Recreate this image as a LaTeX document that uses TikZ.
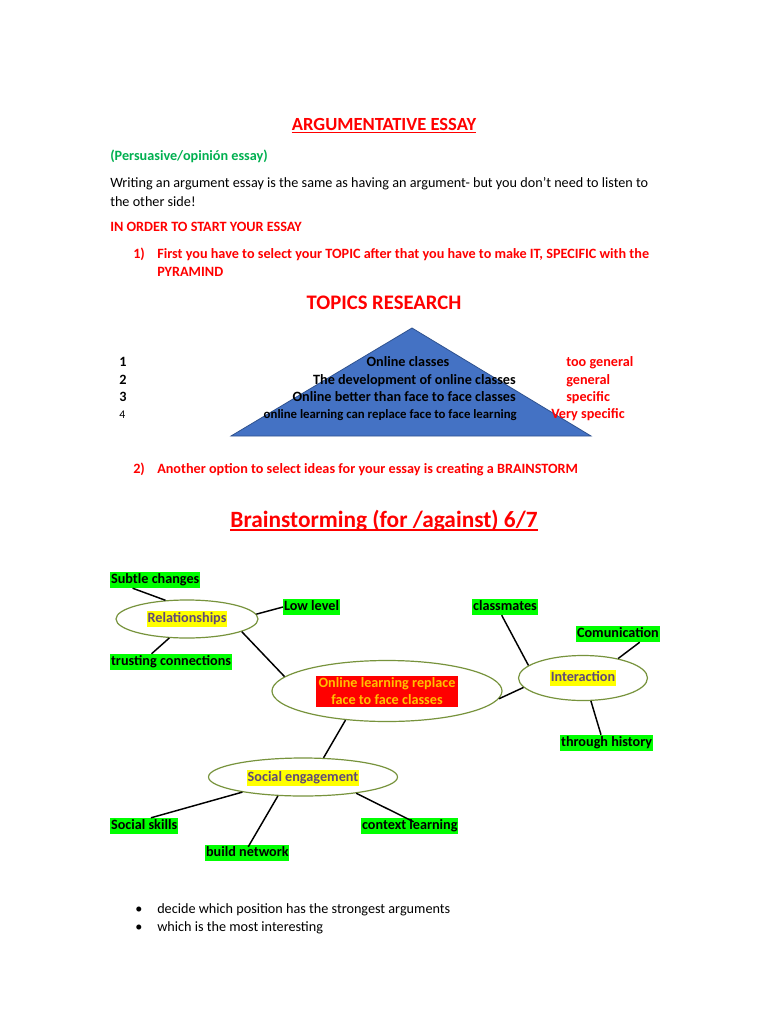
\documentclass[tikz,border=0pt]{standalone}
\usepackage{fontspec}
\setmainfont{Carlito}
\usetikzlibrary{calc,shapes.geometric}
\definecolor{wred}{HTML}{FF0000}
\definecolor{wgreen}{HTML}{00B050}
\definecolor{hlgreen}{HTML}{00FF00}
\definecolor{hlyellow}{HTML}{FFFF00}
\definecolor{lblpurple}{HTML}{5F497A}
\definecolor{ellgreen}{HTML}{77933C}
\definecolor{pyrfill}{HTML}{4472C4}
\definecolor{pyrdraw}{HTML}{2F528F}
\definecolor{cenorange}{HTML}{FFC000}
\newcommand\fsbody{\fontsize{10.65}{12.7}\selectfont}
\newcommand\fssmall{\fontsize{9.6}{11.5}\selectfont}
\newcommand\fsnum{\fontsize{8.8}{10.5}\selectfont}
\newcommand\fstitle{\fontsize{13.9}{16}\selectfont}
\newcommand\fstopics{\fontsize{15.5}{18}\selectfont}
\newcommand\fsbrain{\fontsize{17.5}{20}\selectfont}
\begin{document}
\begin{tikzpicture}[x=0.75pt,y=-0.75pt,
  txt/.style={anchor=base west, inner sep=0pt, font=\fsbody},
  redb/.style={txt, text=wred, font=\bfseries\fsbody},
  blk/.style={txt, font=\bfseries\fsbody},
  hlg/.style={anchor=west, fill=hlgreen, font=\bfseries\fsbody, inner xsep=0.6pt, inner ysep=0.7pt, text height=8.2pt, text depth=2.3pt},
  hly/.style={fill=hlyellow, text=lblpurple, font=\bfseries\fsbody, inner xsep=0.6pt, inner ysep=0.7pt, text height=8.2pt, text depth=2.3pt},
  bubble/.style={ellipse, draw=ellgreen, line width=0.9pt, inner sep=0pt},
  conn/.style={draw=black, line width=1.1pt},
  uline/.style={draw=wred, line width=1.1pt}
]
\useasboundingbox[fill=white] (0,0) rectangle (768,1024);

% header
\node[anchor=base, inner sep=0pt, text=wred, font=\bfseries\fstitle] (title) at (384,130) {ARGUMENTATIVE ESSAY};
\draw[uline, line width=0.9pt] ($(title.base west)+(0,2.5)$) -- ($(title.base east)+(0,2.5)$);
\node[txt, text=wgreen, font=\bfseries\fsbody] (pers) at (110,160) {(Persuasive/opinión essay)};
\node[txt] (wr1) at (110,187) {Writing an argument essay is the same as having an argument- but you don’t need to listen to};
\node[txt] (wr2) at (110,206) {the other side!};
\node[redb] (order) at (110,231) {IN ORDER TO START YOUR ESSAY};
\node[redb] (n1) at (133,258) {1)};
\node[redb] (s1a) at (157,258) {First you have to select your TOPIC after that you have to make IT, SPECIFIC with the};
\node[redb] (s1b) at (157,276) {PYRAMIND};

% pyramid
\node[anchor=base, inner sep=0pt, text=wred, font=\bfseries\fstopics] (topics) at (384,309) {TOPICS RESEARCH};
\draw[fill=pyrfill, draw=pyrdraw, line width=0.6pt] (412,328) -- (591,436) -- (231,436) -- cycle;
\node[txt, anchor=base] (p1) at (408,366) {\bfseries Online classes};
\node[txt, anchor=base east] (p2) at (516,384) {\bfseries The development of online classes};
\node[txt, anchor=base east] (p3) at (516,401) {\bfseries Online better than face to face classes};
\node[txt, anchor=base east, font=\bfseries\fssmall] (p4) at (517,418) {online learning can replace face to face learning};
\node[blk] (k1) at (119,366) {1};
\node[blk] (k2) at (119,384) {2};
\node[blk] (k3) at (119,401) {3};
\node[txt, font=\fsnum] (k4) at (119,418) {4};
\node[redb] (r1) at (566,366) {too general};
\node[redb] (r2) at (566,384) {general};
\node[redb] (r3) at (566,401) {specific};
\node[redb] (r4) at (551,418) {Very specific};

\node[redb] (n2) at (133,473) {2)};
\node[redb] (s2) at (157,473) {Another option to select ideas for your essay is creating a BRAINSTORM};

\node[anchor=base, inner sep=0pt, text=wred, font=\bfseries\fsbrain] (brain) at (384,527) {Brainstorming (for /against) 6/7};
\draw[uline] ($(brain.base west)+(0,3)$) -- ($(brain.base east)+(0,3)$);

% brainstorm bubbles
\node[bubble, minimum width=106.5pt, minimum height=28.5pt] (rel) at (187,619) {};
\node[hly] (rell) at (187,619) {Relationships};
\node[bubble, minimum width=172.5pt, minimum height=45.75pt] (cen) at (387,691) {};
\node[fill=wred, text=cenorange, font=\bfseries\fsbody, align=center, inner xsep=2pt, inner ysep=1.5pt] (cenl) at (387,691) {Online learning replace\\face to face classes};
\node[bubble, minimum width=96.75pt, minimum height=33.75pt] (int) at (583,678) {};
\node[hly] (intl) at (583,678) {Interaction};
\node[bubble, minimum width=141.75pt, minimum height=28.5pt] (soc) at (303,777) {};
\node[hly] (socl) at (303,778) {Social engagement};

% labels
\node[hlg] (sub) at (110,580) {Subtle changes};
\node[hlg] (low) at (283,607) {Low level};
\node[hlg] (tru) at (110,662) {trusting connections};
\node[hlg] (cls) at (472,607) {classmates};
\node[hlg] (com) at (576,634) {Comunication};
\node[hlg] (thr) at (560,743) {through history};
\node[hlg] (ssk) at (110,826) {Social skills};
\node[hlg] (bnw) at (205,853) {build network};
\node[hlg] (ctx) at (361,826) {context learning};

% connectors
\draw[conn] (rel.139) -- ($(sub.south west)!0.25!(sub.south east)$);
\draw[conn] (rel.4) -- (low.west);
\draw[conn] (rel.-133) -- ($(tru.north west)!0.34!(tru.north east)$);
\draw[conn] (rel.-13) -- (cen.172);
\draw[conn] (cen.-4) -- (int.-171);
\draw[conn] (int.167) -- ($(cls.south west)!0.45!(cls.south east)$);
\draw[conn] (int.29) -- ($(com.south west)!0.76!(com.south east)$);
\draw[conn] (int.-71) -- ($(thr.north west)!0.44!(thr.north east)$);
\draw[conn] (cen.-145) -- (soc.43);
\draw[conn] (soc.-166) -- ($(ssk.north west)!0.6!(ssk.north east)$);
\draw[conn] (soc.-143) -- ($(bnw.north west)!0.51!(bnw.north east)+(0,2)$);
\draw[conn] (soc.-17) -- ($(ctx.north west)!0.54!(ctx.north east)+(0,4)$);

% bullets
\node[txt] (b1) at (135,913) {•};
\node[txt] (bt1) at (157,913) {decide which position has the strongest arguments};
\node[txt] (b2) at (135,931) {•};
\node[txt] (bt2) at (157,931) {which is the most interesting};
\end{tikzpicture}
\end{document}
